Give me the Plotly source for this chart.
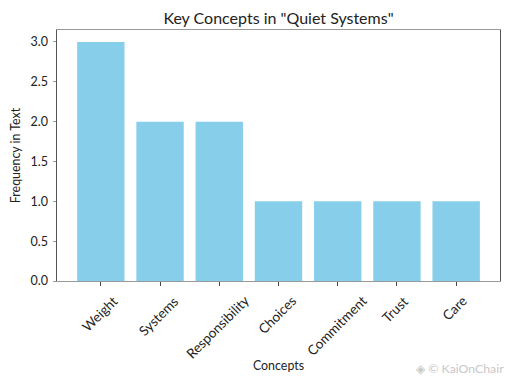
import plotly.graph_objects as go

concepts = ["Weight", "Systems", "Responsibility", "Choices", "Commitment", "Trust", "Care"]
frequency = [3, 2, 2, 1, 1, 1, 1]
y_ticks = [0, 0.5, 1, 1.5, 2, 2.5, 3]
y_labels = ["0.0", "0.5", "1.0", "1.5", "2.0", "2.5", "3.0"]
FONT = "Lato, Noto Sans, sans-serif"
INK = "#222"

fig = go.Figure(go.Bar(x=concepts, y=frequency, marker_color="#87CEEB", marker_line_width=0, width=0.8))
# the page has an 8px body margin, so the figure is 504x376
fig.update_layout(
    width=504, height=376, paper_bgcolor="white", plot_bgcolor="white",
    margin=dict(l=48.5, r=12, t=22, b=103, autoexpand=False), showlegend=False,
    font=dict(family=FONT, size=13, color=INK),
    title=dict(text='Key Concepts in "Quiet Systems"', x=0.5, xref="paper", xanchor="center", y=0.973, yanchor="middle",
               font=dict(size=16, family=FONT, color=INK)),
)
fig.update_xaxes(automargin=False, title=dict(text="Concepts", font=dict(size=12.4), standoff=76), showticklabels=False,
                 ticks="outside", ticklen=3.5, tickcolor="#444", showline=True, linecolor="#999", linewidth=1, mirror=True,
                 range=[-0.74, 6.74])
fig.update_yaxes(automargin=False, title=dict(text="Frequency in Text", font=dict(size=12.4), standoff=8), tickvals=y_ticks, ticktext=y_labels,
                 ticks="outside", ticklen=3.5, tickcolor="#999", showgrid=False, zeroline=False, showline=True, linecolor="#555",
                 linewidth=1, mirror=True, range=[0, 3.15], tickfont=dict(size=12.5), ticklabelstandoff=2)
for name in concepts:
    fig.add_annotation(text=name, x=name, y=0, xref="x", yref="paper", xanchor="center", yanchor="top", textangle=-45,
                       yshift=-9, xshift=-1.5, showarrow=False, font=dict(size=13.5, color=INK, family=FONT))
fig.add_annotation(text="◈ © KaiOnChair", xref="paper", yref="paper", x=1.013, y=-0.347, xanchor="right", yanchor="middle",
                   showarrow=False, font=dict(size=12.3, color="#c8c8c8", family=FONT))
fig.write_html("out.html")
